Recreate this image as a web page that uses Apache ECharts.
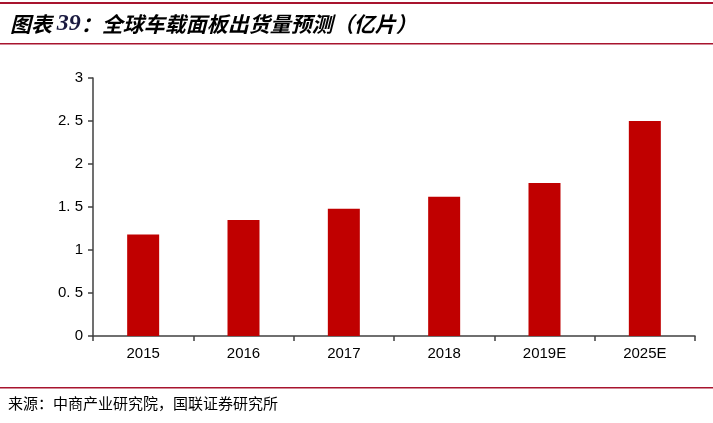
<!DOCTYPE html>
<html>
<head>
<meta charset="utf-8">
<script src="https://cdn.jsdelivr.net/npm/echarts@6/dist/echarts.min.js"></script>
<style>
  html, body { margin: 0; padding: 0; background: #fff; }
  #chart { width: 713px; height: 423px; }
</style>
</head>
<body>
<div id="chart"></div>
<script>
const years = ['2015', '2016', '2017', '2018', '2019E', '2025E']
const shipments = [1.18, 1.35, 1.48, 1.62, 1.78, 2.5]
const yTicks = ['0', '0. 5', '1', '1. 5', '2', '2. 5', '3']

const chart = echarts.init(document.getElementById('chart'))

const option = {
  backgroundColor: '#fff',
  animation: false,
  grid: { left: 93, right: 18, top: 78, bottom: 87 },
  xAxis: {
    type: 'category',
    data: years,
    axisLine: { lineStyle: { color: '#404040', width: 1.5 } },
    axisTick: { show: true, alignWithLabel: false, length: 5, lineStyle: { color: '#404040', width: 1.5 } },
    axisLabel: { color: '#000', fontSize: 15, fontFamily: 'Liberation Sans, Arial', margin: 10 }
  },
  yAxis: {
    type: 'value',
    min: 0,
    max: 3,
    interval: 0.5,
    splitLine: { show: false },
    axisLine: { show: true, lineStyle: { color: '#404040', width: 1.5 } },
    axisTick: { show: true, length: 5, lineStyle: { color: '#404040', width: 1.5 } },
    axisLabel: {
      color: '#000',
      fontSize: 15,
      fontFamily: 'Liberation Sans, Arial',
      margin: 10,
      formatter: (v) => yTicks[Math.round(v * 2)]
    }
  },
  series: [{
    type: 'bar',
    data: shipments,
    barWidth: 32,
    itemStyle: { color: '#C00000' }
  }],
  graphic: [
    { type: 'rect', shape: { x: 0, y: 2, width: 713, height: 2 }, style: { fill: '#A8142E' } },
    { type: 'rect', shape: { x: 0, y: 43, width: 713, height: 1.5 }, style: { fill: '#A8142E' } },
    {
      type: 'text', left: 10, top: 12,
      style: {
        text: '{a|图表 }{n|39}{a|：全球车载面板出货量预测（亿片）}',
        rich: {
          a: { fill: '#000', fontFamily: 'Noto Sans CJK SC', fontSize: 21, fontWeight: 'bold', fontStyle: 'italic' },
          n: { fill: '#1a1a40', fontFamily: 'Liberation Serif', fontSize: 24, fontWeight: 'bold', fontStyle: 'italic' }
        }
      }
    },
    { type: 'rect', shape: { x: 0, y: 387, width: 713, height: 1.5 }, style: { fill: '#A8142E' } },
    {
      type: 'text', left: 8, top: 396,
      style: {
        text: '来源：中商产业研究院，国联证券研究所',
        fill: '#000',
        font: '15px "Noto Sans CJK SC"'
      }
    }
  ]
}

chart.setOption(option)
</script>
</body>
</html>
